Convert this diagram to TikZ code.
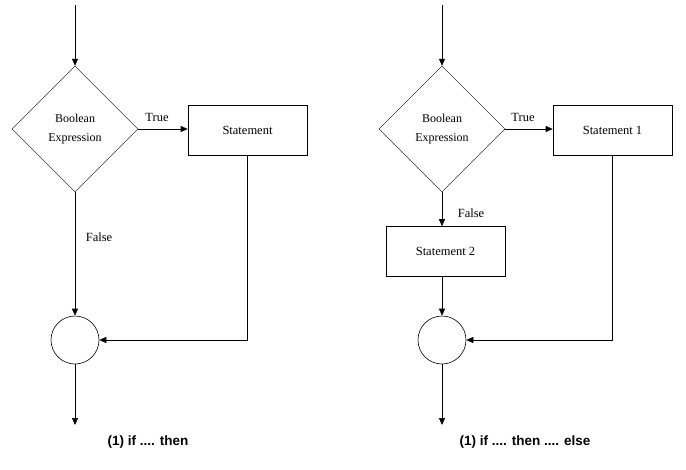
\documentclass[tikz,border=0pt]{standalone}
\usepackage{fontspec}
\setmainfont{Liberation Serif}
\newfontfamily\capfont{Liberation Sans}
\usetikzlibrary{shapes.geometric,arrows.meta}
\begin{document}
\begin{tikzpicture}[x=1pt,y=-1pt,
  arr/.style={-{Triangle[length=7pt,width=6pt]},line width=0.6pt},
  dia/.style={draw,diamond,minimum width=126pt,minimum height=126pt,inner sep=0pt,align=center,font=\fontsize{12}{19}\selectfont,line width=0.4pt},
  box/.style={draw,rectangle,minimum width=119pt,minimum height=50pt,font=\fontsize{12.5}{14}\selectfont,line width=0.6pt},
  circ/.style={draw,circle,minimum size=48pt,inner sep=0pt,line width=0.6pt},
  lbl/.style={font=\fontsize{12.5}{14}\selectfont},
  captxt/.style={font=\capfont\bfseries\fontsize{13.5}{15}\selectfont}]
\useasboundingbox (0,0) rectangle (686,469);
% left
\coordinate (lt) at (75,5);
\node[dia] (d1) at (75,129) {Boolean\\Expression};
\node[box] (s1) at (247.5,130) {Statement};
\node[circ] (c1) at (75,340) {};
\coordinate (lb) at (75,425);
\draw[arr] (lt) -- (d1.north);
\draw[arr] (d1.east) -- (s1.west|-d1.east);
\node[lbl] (t1) at (157,117) {True};
\draw[arr] (d1.south) -- (c1.north);
\node[lbl] (f1) at (99,237) {False};
\draw[arr] (s1.south) |- (c1.east);
\draw[arr] (c1.south) -- (lb);
\node[captxt] (cp1) at (148,442) {(1) if .... then};
% right
\coordinate (rt) at (442,5);
\node[dia] (d2) at (442,129) {Boolean\\Expression};
\node[box] (s2) at (612.5,130) {Statement 1};
\node[box] (s3) at (445.5,251.5) {Statement 2};
\node[circ] (c2) at (442,340) {};
\coordinate (rb) at (442,425);
\draw[arr] (rt) -- (d2.north);
\draw[arr] (d2.east) -- (s2.west|-d2.east);
\node[lbl] (t2) at (523,117) {True};
\draw[arr] (d2.south) -- (d2.south|-s3.north);
\node[lbl] (f2) at (471,213) {False};
\draw[arr] (s3.south-|c2) -- (c2.north);
\draw[arr] (s2.south) |- (c2.east);
\draw[arr] (c2.south) -- (rb);
\node[captxt] (cp2) at (525,442) {(1) if .... then .... else};
\end{tikzpicture}
\end{document}
